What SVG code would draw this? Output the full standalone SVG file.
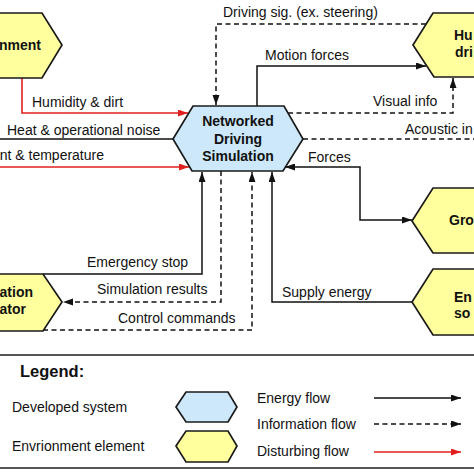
<svg xmlns="http://www.w3.org/2000/svg" width="474" height="474" viewBox="0 0 474 474">
<style>
text{font-family:"Liberation Sans",Arial,sans-serif;font-size:14px;fill:#111}
.nl{font-weight:bold}
.env{fill:#ffff9e;stroke:#1a1a1a;stroke-width:1.7}
.sys{fill:#cce8fa;stroke:#1a1a1a;stroke-width:1.7}
.e{fill:none;stroke:#111;stroke-width:1.5}
.i{fill:none;stroke:#111;stroke-width:1.5;stroke-dasharray:5,3.5}
.d{fill:none;stroke:#e0201e;stroke-width:1.6}
.sep{stroke:#555;stroke-width:2}
</style>
<defs>
<marker id="ah" markerUnits="userSpaceOnUse" markerWidth="11" markerHeight="8" refX="10" refY="3.5" orient="auto"><path d="M0,0 L10,3.5 L0,7 z" fill="#111"/></marker>
<marker id="ahs" markerUnits="userSpaceOnUse" markerWidth="11" markerHeight="8" refX="0" refY="3.5" orient="auto"><path d="M10,0 L0,3.5 L10,7 z" fill="#111"/></marker>
<marker id="ar" markerUnits="userSpaceOnUse" markerWidth="11" markerHeight="8" refX="10" refY="3.5" orient="auto"><path d="M0,0 L10,3.5 L0,7 z" fill="#e0201e"/></marker>
</defs>
<rect width="474" height="474" fill="#fff"/>

<g id="connectors">
<polyline class="d" points="22,78 22,113 188,113" marker-end="url(#ar)"/>
<text x="32" y="107">Humidity &amp; dirt</text>
<line class="e" x1="0" y1="139" x2="173" y2="139"/>
<text x="7" y="135">Heat &amp; operational noise</text>
<line class="d" x1="0" y1="167" x2="189" y2="167" marker-end="url(#ar)"/>
<text x="104" y="160" text-anchor="end">nt &amp; temperature</text>
<polyline class="i" points="426,24 216,24 216,105" marker-end="url(#ah)"/>
<text x="223" y="17">Driving sig. (ex. steering)</text>
<polyline class="e" points="257,106 257,66 426,66" marker-end="url(#ah)"/>
<text x="265" y="60">Motion forces</text>
<polyline class="i" points="288,113 453,113 453,78" marker-end="url(#ah)"/>
<text x="373" y="106">Visual info</text>
<line class="i" x1="303" y1="139" x2="474" y2="139"/>
<text x="405" y="134">Acoustic in</text>
<polyline class="e" points="285,167 360,167 360,220 412,220" marker-start="url(#ahs)" marker-end="url(#ah)"/>
<text x="308" y="162">Forces</text>
<polyline class="e" points="43,274 202,274 202,172" marker-end="url(#ah)"/>
<text x="87" y="267">Emergency stop</text>
<polyline class="i" points="221,171 221,302 63,302" marker-end="url(#ah)"/>
<text x="97" y="294">Simulation results</text>
<polyline class="i" points="43,330 252,330 252,172" marker-end="url(#ah)"/>
<text x="118" y="323">Control commands</text>
<polyline class="e" points="412,302 272,302 272,172" marker-end="url(#ah)"/>
<text x="282" y="297">Supply energy</text>
</g>

<g id="environment">
<polygon class="env" points="-62,45 -42,13 42,13 62,45 42,78 -42,78"/>
<text class="nl" x="41" y="50" text-anchor="end">nment</text>
</g>
<g id="simulation">
<polygon class="sys" points="173,139 193,106 284,106 303,139 283,171 192,171"/>
<text class="nl" x="238" y="126" text-anchor="middle">Networked</text>
<text class="nl" x="238" y="144" text-anchor="middle">Driving</text>
<text class="nl" x="238" y="161" text-anchor="middle">Simulation</text>
</g>
<g id="human-driver">
<polygon class="env" points="413,45 433,13 520,13 540,45 520,77 434,77"/>
<text class="nl" x="454" y="40">Hu</text>
<text class="nl" x="455" y="57">dri</text>
</g>
<g id="ground">
<polygon class="env" points="412,221 433,188 520,188 540,221 520,253 433,253"/>
<text class="nl" x="449" y="225">Gro</text>
</g>
<g id="energy-source">
<polygon class="env" points="412,302 433,269 520,269 540,302 520,335 433,335"/>
<text class="nl" x="454" y="302">En</text>
<text class="nl" x="454" y="318">so</text>
</g>
<g id="operator">
<polygon class="env" points="-62,302 -42,274 43,274 62,302 43,331 -42,331"/>
<text class="nl" x="33" y="297" text-anchor="end">ation</text>
<text class="nl" x="26" y="314" text-anchor="end">ator</text>
</g>

<g id="legend">
<line class="sep" x1="0" y1="355" x2="474" y2="355"/>
<line class="sep" x1="0" y1="468" x2="474" y2="468"/>
<text class="nl" x="20" y="377" style="font-size:16.5px">Legend:</text>
<text x="12" y="412">Developed system</text>
<text x="12" y="451">Envrionment element</text>
<polygon class="sys" points="176,407 186,392 228,392 237,407 228,422 186,422"/>
<polygon class="env" points="176,446 186,431 228,431 237,446 228,462 186,462"/>
<text x="257" y="403">Energy flow</text>
<text x="257" y="429">Information flow</text>
<text x="257" y="456">Disturbing flow</text>
<line class="e" x1="374" y1="398" x2="461" y2="398" marker-end="url(#ah)"/>
<line class="i" x1="374" y1="424" x2="461" y2="424" marker-end="url(#ah)"/>
<line class="d" x1="374" y1="452" x2="461" y2="452" marker-end="url(#ar)"/>
</g>
</svg>
